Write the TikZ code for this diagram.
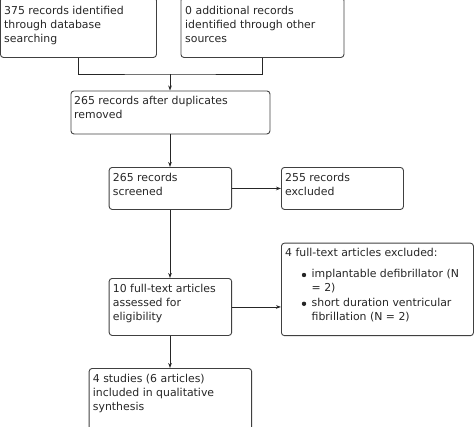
\documentclass[tikz,border=0pt]{standalone}
\usepackage{fontspec}
\setmainfont{DejaVu Sans}
\usetikzlibrary{arrows.meta,calc}
\tikzset{
  x=1pt,y=-1pt,
  box/.style={draw=black!75,line width=0.9pt,rounded corners=3pt,anchor=north west,inner sep=0pt},
  txt/.style={anchor=north west,align=left,inner sep=0pt,font=\fontsize{10.9}{13.8}\selectfont,text=black!85},
  conn/.style={draw=black!85,line width=0.8pt},
  arr/.style={conn,-{Stealth[length=5pt,width=3.6pt]}},
}
\begin{document}
\begin{tikzpicture}
\useasboundingbox (0,0) rectangle (474,426);
\clip (0,0) rectangle (474,426);
% boxes
\node[box,minimum width=156pt,minimum height=60pt] (b1) at (0,-3) {};
\node[box,minimum width=163pt,minimum height=60pt] (b2) at (180.5,-3) {};
\node[box,minimum width=199pt,minimum height=43pt] (b3) at (70.5,90.5) {};
\node[box,minimum width=122.5pt,minimum height=42pt] (b4) at (108.7,167) {};
\node[box,minimum width=122pt,minimum height=42pt] (b5) at (281,167) {};
\node[box,minimum width=192pt,minimum height=92.5pt] (b6) at (281,242.7) {};
\node[box,minimum width=122.5pt,minimum height=57pt] (b7) at (108.7,278) {};
\node[box,minimum width=162.5pt,minimum height=62pt] (b8) at (88.7,368) {};
% texts
\node[txt] (t1) at (4,6.5) {375 records identified\\through database\\searching};
\node[txt] (t2) at (185,6.5) {0 additional records\\identified through other\\sources};
\node[txt] (t3) at (74,96) {265 records after duplicates\\removed};
\node[txt] (t4) at (112.7,173) {265 records\\screened};
\node[txt] (t5) at (285,173) {255 records\\excluded};
\node[txt] (t6) at (285,248.5) {4 full-text articles excluded:};
\node[txt] (t6a) at (311.5,269) {implantable defibrillator (N\\= 2)};
\node[txt] (t6b) at (311.5,297.8) {short duration ventricular\\fibrillation (N = 2)};
\node[txt] (t7) at (112.7,284) {10 full-text articles\\assessed for\\eligibility};
\node[txt] (t8) at (92.7,374) {4 studies (6 articles)\\included in qualitative\\synthesis};
% bullets
\fill[black!85] ($(t6a.north west)+(-7.5,6)$) circle (2.2pt);
\fill[black!85] ($(t6b.north west)+(-7.5,6)$) circle (2.2pt);
% connectors
\coordinate (j) at (170,74);
\draw[conn] (b1.south) |- (j) -| (b2.south);
\draw[arr] (j) -- (b3.north -| j);
\draw[arr] (b3.south -| j) -- (b4.north -| j);
\draw[arr] (b4.east) -- (b5.west);
\draw[arr] (b4.south -| j) -- (b7.north -| j);
\draw[arr] (b7.east) -- (b7.east -| b6.west);
\draw[arr] (b7.south -| j) -- (b8.north -| j);
\end{tikzpicture}
\end{document}
